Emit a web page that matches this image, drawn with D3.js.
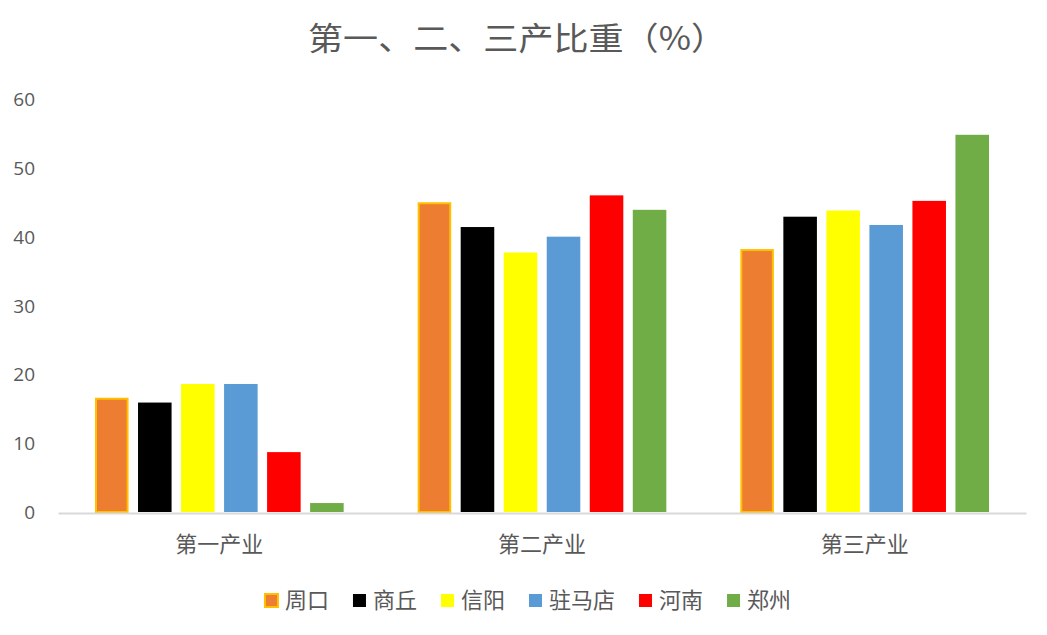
<!DOCTYPE html>
<html>
<head>
<meta charset="utf-8">
<script src="https://cdn.jsdelivr.net/npm/d3@7"></script>
<style>
  html, body { margin: 0; padding: 0; background: #fff; }
  svg { display: block; }
</style>
</head>
<body>
<svg id="chart" width="1047" height="635"></svg>
<script>
const title = "第一、二、三产比重（%）";
const categories = ["第一产业", "第二产业", "第三产业"];
const seriesNames = ["周口", "商丘", "信阳", "驻马店", "河南", "郑州"];
const seriesColors = ["#ED7D31", "#000000", "#FFFF00", "#5B9BD5", "#FF0000", "#70AD47"];
const seriesStroke = ["#FFC000", null, null, null, null, null];
const values = {
  "周口":   [16.6, 45.0, 38.2],
  "商丘":   [15.9, 41.4, 42.9],
  "信阳":   [18.6, 37.7, 43.8],
  "驻马店": [18.6, 40.0, 41.7],
  "河南":   [8.7, 46.0, 45.2],
  "郑州":   [1.3, 43.9, 54.8]
};
const yTicks = [0, 10, 20, 30, 40, 50, 60];

(function () {
const svg = d3.select("#chart");
const mLeft = 58, mRight = 1026, mTop = 99, mBottom = 512;
const textColor = "#595959";
const cjk = "'Noto Sans CJK SC', 'Noto Sans', sans-serif";

// Title
svg.append("text")
  .attr("x", 517).attr("y", 50)
  .attr("text-anchor", "middle")
  .attr("font-family", cjk)
  .attr("font-size", 32)
  .attr("fill", textColor)
  .attr("textLength", 418)
  .attr("lengthAdjust", "spacingAndGlyphs")
  .text(title);

const x0 = d3.scaleBand().domain(categories).range([mLeft, mRight]).paddingInner(0).paddingOuter(0);
const x1 = d3.scaleBand().domain(seriesNames)
  .range([37, x0.bandwidth() - 37]).paddingInner(0.22).paddingOuter(0);
const y = d3.scaleLinear().domain([0, 60]).range([mBottom, mTop]);

// Y axis labels
const yAxis = d3.axisLeft(y).tickValues(yTicks).tickSize(0).tickPadding(0);
const yg = svg.append("g").attr("transform", `translate(35,0)`).call(yAxis);
yg.select(".domain").remove();
yg.selectAll("text")
  .attr("font-family", "'Open Sans', 'Liberation Sans', sans-serif")
  .attr("font-size", 19)
  .attr("fill", textColor)
  .attr("dy", "0.35em");

// Bars
const groups = svg.append("g").selectAll("g")
  .data(categories)
  .join("g")
  .attr("transform", d => `translate(${x0(d)},0)`);

groups.selectAll("rect")
  .data((c, ci) => seriesNames.map((s, si) => ({ s, si, v: values[s][ci] })))
  .join("rect")
  .attr("x", d => x1(d.s) + (seriesStroke[d.si] ? 1 : 0))
  .attr("y", d => y(d.v) + (seriesStroke[d.si] ? 1 : 0))
  .attr("width", d => x1.bandwidth() - (seriesStroke[d.si] ? 2 : 0))
  .attr("height", d => y(0) - y(d.v) - (seriesStroke[d.si] ? 1 : 0))
  .attr("fill", d => seriesColors[d.si])
  .attr("stroke", d => seriesStroke[d.si] || "none")
  .attr("stroke-width", 2);

// X axis line and labels
const xAxis = d3.axisBottom(x0).tickSize(0).tickPadding(0);
const xg = svg.append("g").attr("transform", `translate(0,${mBottom + 1})`).call(xAxis);
xg.select(".domain").attr("stroke", "#D9D9D9").attr("stroke-width", 2);
xg.selectAll("text")
  .attr("font-family", cjk)
  .attr("font-size", 22)
  .attr("fill", textColor)
  .attr("y", 39)
  .attr("dy", 0);

// Legend
const legend = svg.append("g");
const items = legend.selectAll("g").data(seriesNames).join("g");
items.append("rect")
  .attr("width", 13).attr("height", 13)
  .attr("y", 594)
  .attr("fill", (d, i) => seriesColors[i])
  .attr("stroke", (d, i) => seriesStroke[i] || "none")
  .attr("stroke-width", 2);
items.append("text")
  .attr("x", 20).attr("y", 608)
  .attr("font-family", cjk)
  .attr("font-size", 22)
  .attr("fill", textColor)
  .text(d => d);
let cx = 0;
const pos = [];
items.each(function () {
  const w = d3.select(this).select("text").node().getComputedTextLength();
  pos.push(cx);
  cx += 20 + w + 24;
});
const total = cx - 24;
const startX = 528 - total / 2;
items.attr("transform", (d, i) => `translate(${startX + pos[i]},0)`);
})();
</script>
</body>
</html>
